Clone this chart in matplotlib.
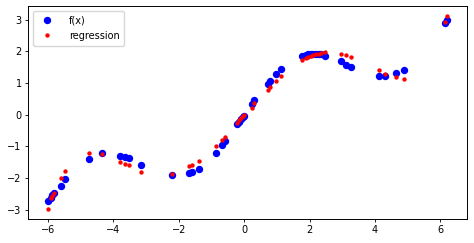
import numpy as np
import matplotlib
matplotlib.use("Agg")
import matplotlib.pyplot as plt

# sample positions and values
x = [-6.0, -5.92, -5.86, -5.81, -5.6, -5.47,
     -4.73, -4.36, -3.8, -3.65, -3.52, -3.14,
     -2.22, -1.69, -1.59, -1.39,
     -0.85, -0.68, -0.6,
     -0.22, -0.16, -0.10, -0.04, 0.0,
     0.25, 0.31, 0.73, 0.78, 0.98, 1.14,
     1.78, 1.88, 1.96, 2.04, 2.12, 2.2, 2.28, 2.36, 2.46,
     2.97, 3.12, 3.27,
     4.11, 4.32, 4.65, 4.88,
     6.14, 6.2]

fx = [-2.71, -2.62, -2.54, -2.47, -2.24, -2.03,
      -1.39, -1.22, -1.29, -1.32, -1.37, -1.58,
      -1.89, -1.84, -1.82, -1.71,
      -1.21, -0.95, -0.84,
      -0.30, -0.22, -0.15, -0.08, -0.03,
      0.33, 0.46, 0.98, 1.05, 1.29, 1.44,
      1.86, 1.89, 1.91, 1.92, 1.93, 1.93, 1.92, 1.91, 1.86,
      1.68, 1.58, 1.50,
      1.21, 1.23, 1.32, 1.42,
      2.9, 2.98]

regression = [-2.98, -2.64, -2.55, -2.46, -2.0, -1.76,
              -1.2, -1.23, -1.49, -1.54, -1.6, -1.79,
              -1.86, -1.63, -1.58, -1.47,
              -1.0, -0.79, -0.69,
              -0.26, -0.18, -0.11, -0.05, 0.0,
              0.22, 0.36, 0.79, 0.87, 1.06, 1.21,
              1.74, 1.78, 1.82, 1.85, 1.88, 1.9, 1.92, 1.95, 1.97,
              1.93, 1.89, 1.82,
              1.4, 1.29, 1.18, 1.14,
              2.93, 3.12]

plt.rcParams['font.size'] = 7

fig = plt.figure(figsize=(4.74, 2.43), dpi=100)
ax = fig.add_axes([0.059, 0.099, 0.926, 0.876])

ax.plot(x, fx, 'o', color='blue', ms=4.3, label='f(x)')
ax.plot(x, regression, '.', color='red', ms=4.3, label='regression')

ax.set_xticks([-6, -4, -2, 0, 2, 4, 6])
ax.set_yticks([-3, -2, -1, 0, 1, 2, 3])
ax.tick_params(length=2.5, width=0.6, pad=2)
for s in ax.spines.values():
    s.set_linewidth(0.7)
ax.legend(loc='upper left', fontsize=7, handletextpad=1.2, borderpad=0.5)

fig.savefig("out.png", dpi=100)
